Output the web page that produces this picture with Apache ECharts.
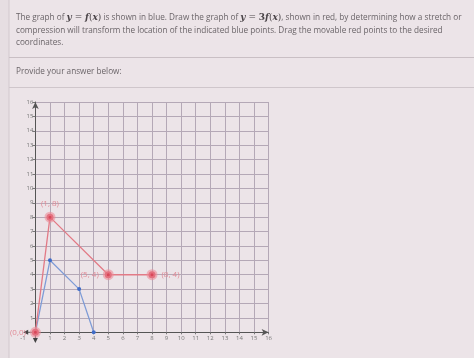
<!DOCTYPE html>
<html><head><meta charset="utf-8">
<script src="https://cdn.jsdelivr.net/npm/echarts@6/dist/echarts.min.js"></script>
<style>html,body{margin:0;padding:0;background:#ece4e8;}#c{width:474px;height:358px;}</style>
</head><body><div id="c"></div>
<script>
const xTicks = [1,2,3,4,5,6,7,8,9,10,11,12,13,14,15,16];
const yTicks = [1,2,3,4,5,6,7,8,9,10,11,12,13,14,15,16];
const blueX = [0,1,3,4];
const blueY = [0,5,3,0];
const redX = [0,1,5,8];
const redY = [0,8,4,4];
const redLabels = ['(0,0)','(1, 8)','(5, 4)','(8, 4)'];
const redLabelPos = ['left','top','left','right'];

const chart = echarts.init(document.getElementById('c'));
const tf = '"Open Sans", sans-serif';
const txtColor = '#6a6468';
const FS = 8.2;
chart.setOption({
  animation: false,
  backgroundColor: '#ece4e8',
  grid: {left: 35.4, right: 205.4, top: 102, bottom: 25.7, containLabel: false},
  xAxis: {
    type: 'value', min: 0, max: 16, interval: 1,
    axisLine: {show: true, onZero: true, lineStyle: {color: '#555', width: 1}, symbol: ['none','arrow'], symbolSize: [5,7]},
    axisTick: {show: true, length: 2, lineStyle: {color: '#777'}},
    axisLabel: {fontSize: 6, color: '#777', margin: 3, fontFamily: tf,
      formatter: v => xTicks.includes(v) ? String(v) : ''},
    splitLine: {show: true, lineStyle: {color: '#b4a8b6', width: 1}}
  },
  yAxis: {
    type: 'value', min: 0, max: 16, interval: 1,
    axisLine: {show: true, onZero: true, lineStyle: {color: '#555', width: 1}, symbol: ['none','arrow'], symbolSize: [5,7]},
    axisTick: {show: true, length: 3, lineStyle: {color: '#777'}},
    axisLabel: {fontSize: 6, color: '#777', margin: 2, fontFamily: tf,
      formatter: v => yTicks.includes(v) ? String(v) : ''},
    splitLine: {show: true, lineStyle: {color: '#b4a8b6', width: 1}}
  },
  series: [
    {type: 'line', data: blueX.map((x,i)=>[x, blueY[i]]), symbol: 'circle', symbolSize: 4,
     lineStyle: {color: '#7f9cd6', width: 1.3}, itemStyle: {color: '#3f6cc8'}, z: 3},
    {type: 'line', data: redX.map((x,i)=>({value:[x, redY[i]], label:{show:true, position: redLabelPos[i], formatter: redLabels[i]}})),
     symbol: 'circle', symbolSize: 7,
     lineStyle: {color: '#e27a86', width: 1.3},
     itemStyle: {color: '#d8485a', borderColor: 'rgba(236,140,152,0.6)', borderWidth: 4},
     label: {fontSize: 8, color: '#e08a96', fontFamily: tf, distance: 4},
     z: 4}
  ]
});
const o = chart.convertToPixel({gridIndex: 0}, [0, 0]);
const ext = chart.convertToPixel({gridIndex: 0}, [-0.7, -0.6]);
const mathStyle = {fontFamily: '"DejaVu Serif", serif', fontStyle: 'italic', fontWeight: 'bold', fontSize: 9, fill: '#4a4448'};
const plainStyle = {fontFamily: tf, fontWeight: 'normal', fontSize: FS, fill: txtColor};
chart.setOption({graphic: [
  {type: 'rect', shape: {x: 0, y: 0, width: 9, height: 358}, style: {fill: '#e6dee2'}, silent: true},
  {type: 'line', shape: {x1: 9, y1: 0, x2: 9, y2: 358}, style: {stroke: '#d2c9ce', lineWidth: 1}},
  {type: 'text', x: 16, y: 13, style: {
    text: '{p|The graph of }{m|y}{q| = }{m|f}{q|(}{m|x}{q|)}{p| is shown in blue. Draw the graph of }{m|y}{q| = }{b|3}{m|f}{q|(}{m|x}{q|)}{p|, shown in red, by determining how a stretch or}',
    fontSize: FS, fontFamily: tf, fontWeight: 'normal', fill: txtColor,
    rich: {p: plainStyle, m: mathStyle,
      q: Object.assign({}, mathStyle, {fontStyle: 'normal', fontWeight: 'normal'}),
      b: Object.assign({}, mathStyle, {fontStyle: 'normal', fontWeight: 'bold'})}}},
  {type: 'text', x: 16, y: 27, style: {
    text: 'compression will transform the location of the indicated blue points. Drag the movable red points to the desired',
    fontSize: FS, fontFamily: tf, fontWeight: 'normal', fill: txtColor}},
  {type: 'text', x: 16, y: 39, style: {text: 'coordinates.', fontSize: FS, fontFamily: tf, fontWeight: 'normal', fill: txtColor}},
  {type: 'line', shape: {x1: 9, y1: 57.5, x2: 474, y2: 57.5}, style: {stroke: '#c9bfc4', lineWidth: 1}},
  {type: 'text', x: 16, y: 68, style: {text: 'Provide your answer below:', fontSize: FS, fontFamily: tf, fontWeight: 'normal', fill: txtColor}},
  {type: 'line', shape: {x1: 9, y1: 87.5, x2: 474, y2: 87.5}, style: {stroke: '#cfc6cb', lineWidth: 1}},
  {type: 'line', shape: {x1: o[0], y1: o[1], x2: ext[0], y2: o[1]}, style: {stroke: '#555', lineWidth: 1}},
  {type: 'polygon', shape: {points: [[ext[0]-2, o[1]], [ext[0]+3, o[1]-2.5], [ext[0]+3, o[1]+2.5]]}, style: {fill: '#444'}},
  {type: 'line', shape: {x1: o[0], y1: o[1], x2: o[0], y2: ext[1]}, style: {stroke: '#555', lineWidth: 1}},
  {type: 'polygon', shape: {points: [[o[0], ext[1]+2], [o[0]-2.5, ext[1]-3], [o[0]+2.5, ext[1]-3]]}, style: {fill: '#444'}},
  {type: 'text', x: ext[0]-5, y: o[1]+3, style: {text: '-1', fontSize: 6, fill: '#777', fontFamily: tf}}
]});
</script></body></html>
